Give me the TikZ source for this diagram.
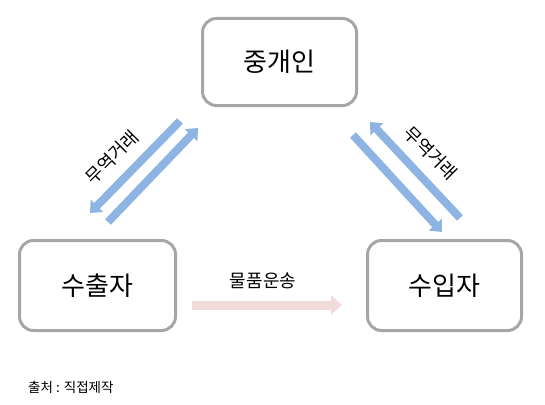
\documentclass[tikz,border=0pt]{standalone}
\usepackage{fontspec}
\setmainfont{Noto Sans CJK KR}
\usetikzlibrary{arrows.meta}
\definecolor{boxgray}{HTML}{A6A6A6}
\definecolor{tradeblue}{HTML}{8EB4E3}
\definecolor{goodspink}{HTML}{F2DCDB}
\tikzset{
  partybox/.style={draw=boxgray, line width=3pt, rounded corners=14pt, fill=white,
    inner sep=0pt, font=\fontsize{26}{30}\selectfont},
  tradearrow/.style={draw=tradeblue, line width=8pt, -{Triangle[width=17pt,length=10pt]}},
  goodsarrow/.style={draw=goodspink, line width=9pt, -{Triangle[width=19pt,length=11pt]}},
  midlabel/.style={font=\fontsize{18}{21}\selectfont, inner sep=0pt},
  notelabel/.style={font=\fontsize{13.5}{16}\selectfont, inner sep=0pt, anchor=west}
}
\begin{document}
\begin{tikzpicture}[x=1pt,y=-1pt]
\useasboundingbox (0,0) rectangle (545,404);
\node[partybox, minimum width=154pt, minimum height=87pt] (broker) at (279.5,62) {중개인};
\node[partybox, minimum width=156pt, minimum height=90pt] (exporter) at (97.5,285.5) {수출자};
\node[partybox, minimum width=154pt, minimum height=90pt] (importer) at (444.5,285.5) {수입자};
% arrow end points
\coordinate (a1) at (180,121);
\coordinate (a2) at (90,213);
\coordinate (b1) at (108,222);
\coordinate (b2) at (198,128);
\coordinate (c1) at (460,218);
\coordinate (c2) at (370,122);
\coordinate (d1) at (353,135);
\coordinate (d2) at (442,232);
\coordinate (e1) at (192,305);
\coordinate (e2) at (342,305);
\draw[tradearrow] (a1) -- (a2);
\draw[tradearrow] (b1) -- (b2);
\draw[tradearrow] (c1) -- (c2);
\draw[tradearrow] (d1) -- (d2);
\draw[goodsarrow] (e1) -- (e2);
\node[midlabel, rotate=45] (tradeL) at (112,157) {무역거래};
\node[midlabel, rotate=-45] (tradeR) at (431,153) {무역거래};
\node[midlabel] (goods) at (263,281) {물품운송};
\node[notelabel] (source) at (28,387) {출처 : 직접제작};
\end{tikzpicture}
\end{document}
